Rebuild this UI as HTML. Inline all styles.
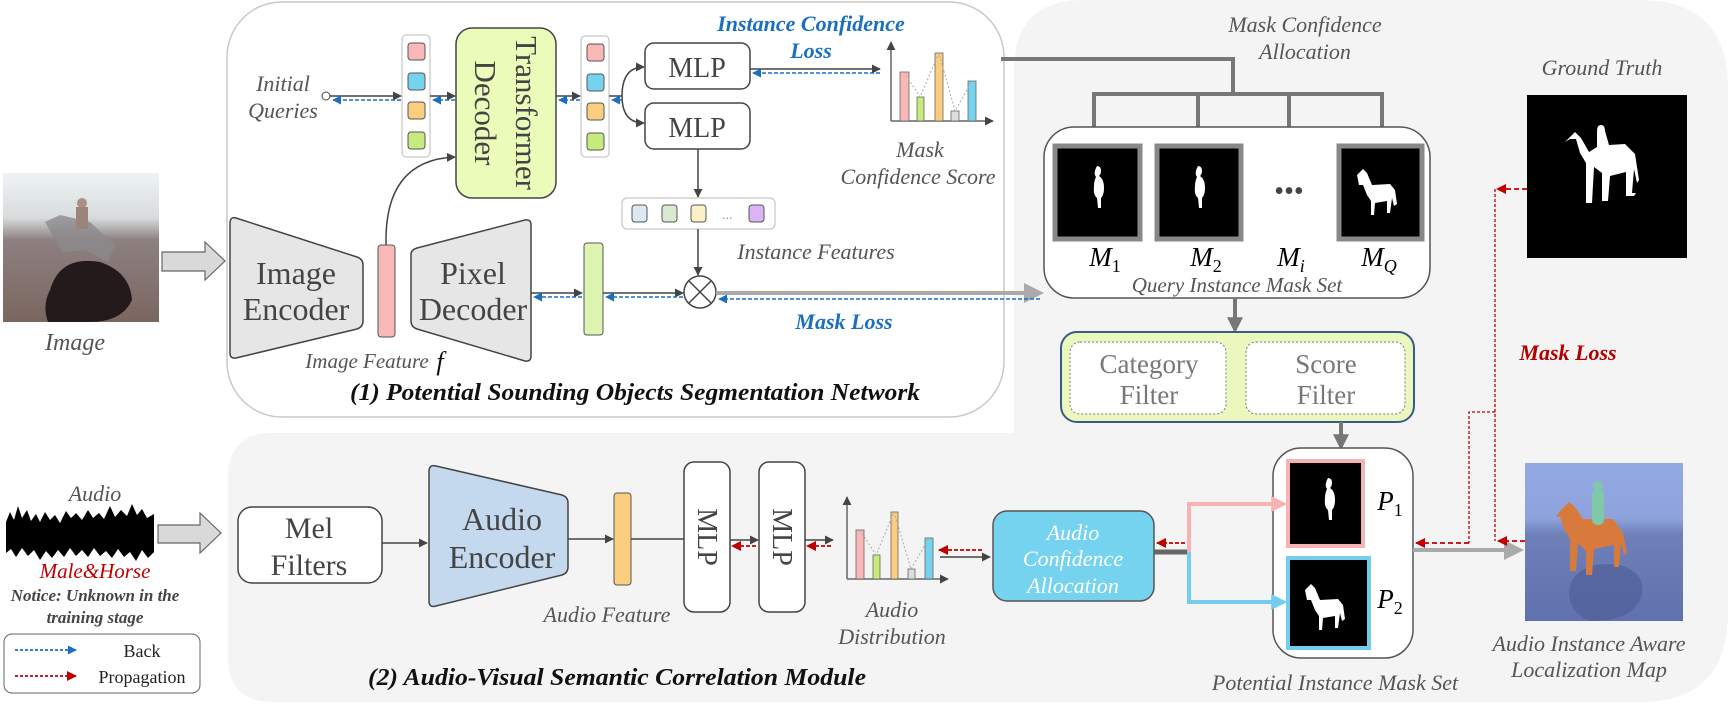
<!DOCTYPE html>
<html><head><meta charset="utf-8"><style>
html,body{margin:0;padding:0;background:#fff}
svg{display:block}
text{font-family:"Liberation Serif",serif}
.it{font-style:italic;fill:#555}
.bb{font-weight:bold;font-style:italic;fill:#1a6fc0}
.rb{font-weight:bold;font-style:italic;fill:#b00000}
</style></head><body>
<svg width="1735" height="704" viewBox="0 0 1735 704" xmlns="http://www.w3.org/2000/svg">
<defs>
<marker id="ad" viewBox="0 0 10 10" refX="9" refY="5" markerWidth="9" markerHeight="9" markerUnits="userSpaceOnUse" orient="auto"><path d="M0,0L10,5L0,10z" fill="#444"/></marker>
<marker id="ab" viewBox="0 0 10 10" refX="9" refY="5" markerWidth="9" markerHeight="9" markerUnits="userSpaceOnUse" orient="auto"><path d="M0,0L10,5L0,10z" fill="#1a6fc0"/></marker>
<marker id="ar" viewBox="0 0 10 10" refX="9" refY="5" markerWidth="10" markerHeight="10" markerUnits="userSpaceOnUse" orient="auto"><path d="M0,0L10,5L0,10z" fill="#c00000"/></marker>
<marker id="ag" viewBox="0 0 10 10" refX="8" refY="5" markerWidth="16" markerHeight="16" markerUnits="userSpaceOnUse" orient="auto"><path d="M0,0L10,5L0,10z" fill="#777"/></marker>
<marker id="ag2" viewBox="0 0 10 10" refX="8" refY="5" markerWidth="20" markerHeight="20" markerUnits="userSpaceOnUse" orient="auto"><path d="M0,0L10,5L0,10z" fill="#aaa"/></marker>
<marker id="ap" viewBox="0 0 10 10" refX="8" refY="5" markerWidth="16" markerHeight="16" markerUnits="userSpaceOnUse" orient="auto"><path d="M0,0L10,5L0,10z" fill="#f6b3b3"/></marker>
<marker id="ac" viewBox="0 0 10 10" refX="8" refY="5" markerWidth="16" markerHeight="16" markerUnits="userSpaceOnUse" orient="auto"><path d="M0,0L10,5L0,10z" fill="#74cdee"/></marker>
<linearGradient id="ph" x1="0" y1="0" x2="0" y2="1"><stop offset="0" stop-color="#eef3f4"/><stop offset="0.3" stop-color="#d8dcdc"/><stop offset="0.45" stop-color="#8d8080"/><stop offset="1" stop-color="#7a665f"/></linearGradient>
<linearGradient id="mp" x1="0" y1="0" x2="0" y2="1"><stop offset="0" stop-color="#93a9e3"/><stop offset="0.35" stop-color="#8ea3dc"/><stop offset="0.45" stop-color="#6f80b9"/><stop offset="1" stop-color="#5f72ad"/></linearGradient>
</defs>

<!-- backgrounds -->
<path d="M1084,0H1640Q1728,0 1728,88V612Q1728,702 1640,702H273Q228,702 228,657V478Q228,433 273,433H1014V70Q1014,0 1084,0Z" fill="#f4f4f4"/>
<rect x="227" y="2" width="777" height="415" rx="55" fill="#fff" stroke="#c8c8c8" stroke-width="1.5"/>

<!-- photo -->
<rect x="3" y="173" width="156" height="149" fill="url(#ph)"/>
<path d="M50,290Q60,255 100,262Q130,272 132,300Q122,322 90,322H48Q42,305 50,290Z" fill="#241a1c"/>
<path d="M45,222L60,215L90,222L115,245L108,262L85,250L62,252Z" fill="#8c8a8c" opacity="0.8"/>
<circle cx="82" cy="203" r="5" fill="#a89088"/><rect x="76" y="207" width="12" height="22" fill="#9b8579"/>
<text x="75" y="350" class="it" font-size="24" text-anchor="middle">Image</text>
<path d="M162,252H205V242L225,261L205,280V271H162Z" fill="#d9d9d9" stroke="#666" stroke-width="1.2"/>

<!-- Initial queries -->
<text x="283" y="91" class="it" font-size="22" text-anchor="middle">Initial</text>
<text x="283" y="118" class="it" font-size="22" text-anchor="middle">Queries</text>
<circle cx="326" cy="96" r="4" fill="#fff" stroke="#444"/>
<line x1="330" y1="96" x2="401" y2="96" stroke="#444" stroke-width="1.5" marker-end="url(#ad)"/>
<line x1="401" y1="100" x2="333" y2="100" stroke="#1a6fc0" stroke-width="1.5" stroke-dasharray="4,2" marker-end="url(#ab)"/>

<!-- column 1 -->
<rect x="402" y="35" width="28" height="122" rx="4" fill="#fff" stroke="#bbb"/>
<rect x="408" y="43" width="17" height="17" rx="3" fill="#f9b8b8" stroke="#555"/>
<rect x="408" y="73" width="17" height="17" rx="3" fill="#76d3ef" stroke="#555"/>
<rect x="408" y="102" width="17" height="17" rx="3" fill="#fbcd7f" stroke="#555"/>
<rect x="408" y="132" width="17" height="17" rx="3" fill="#c6ea7c" stroke="#555"/>
<line x1="430" y1="96" x2="455" y2="96" stroke="#444" stroke-width="1.5" marker-end="url(#ad)"/>
<line x1="455" y1="100" x2="433" y2="100" stroke="#1a6fc0" stroke-width="1.5" stroke-dasharray="4,2" marker-end="url(#ab)"/>

<!-- transformer decoder -->
<rect x="456" y="28" width="100" height="170" rx="16" fill="#ebfbba" stroke="#444" stroke-width="1.5"/>
<text transform="translate(516,113) rotate(90)" font-size="31" fill="#444" text-anchor="middle">Transformer</text>
<text transform="translate(475,113) rotate(90)" font-size="31" fill="#444" text-anchor="middle">Decoder</text>
<line x1="556" y1="96" x2="580" y2="96" stroke="#444" stroke-width="1.5" marker-end="url(#ad)"/>
<line x1="580" y1="100" x2="559" y2="100" stroke="#1a6fc0" stroke-width="1.5" stroke-dasharray="4,2" marker-end="url(#ab)"/>

<!-- column 2 -->
<rect x="581" y="36" width="28" height="121" rx="4" fill="#fff" stroke="#bbb"/>
<rect x="587" y="44" width="17" height="17" rx="3" fill="#f9b8b8" stroke="#555"/>
<rect x="587" y="74" width="17" height="17" rx="3" fill="#76d3ef" stroke="#555"/>
<rect x="587" y="103" width="17" height="17" rx="3" fill="#fbcd7f" stroke="#555"/>
<rect x="587" y="133" width="17" height="17" rx="3" fill="#c6ea7c" stroke="#555"/>
<line x1="609" y1="96" x2="622" y2="96" stroke="#444" stroke-width="1.5"/>
<path d="M622,96Q622,67 644,67" fill="none" stroke="#444" stroke-width="1.5" marker-end="url(#ad)"/>
<path d="M622,96Q622,123 644,123" fill="none" stroke="#444" stroke-width="1.5" marker-end="url(#ad)"/>
<line x1="622" y1="100" x2="612" y2="100" stroke="#1a6fc0" stroke-width="1.5" stroke-dasharray="4,2" marker-end="url(#ab)"/>

<!-- MLPs -->
<rect x="645" y="43" width="105" height="46" rx="9" fill="#fff" stroke="#444" stroke-width="1.5"/>
<text x="697" y="77" font-size="28" fill="#444" text-anchor="middle">MLP</text>
<rect x="645" y="103" width="105" height="46" rx="9" fill="#fff" stroke="#444" stroke-width="1.5"/>
<text x="697" y="137" font-size="28" fill="#444" text-anchor="middle">MLP</text>
<line x1="750" y1="69" x2="880" y2="69" stroke="#444" stroke-width="1.5" marker-end="url(#ad)"/>
<line x1="880" y1="73" x2="753" y2="73" stroke="#1a6fc0" stroke-width="1.5" stroke-dasharray="4,2" marker-end="url(#ab)"/>
<text x="811" y="31" class="bb" font-size="22" text-anchor="middle">Instance Confidence</text>
<text x="811" y="58" class="bb" font-size="22" text-anchor="middle">Loss</text>

<!-- chart 1 -->
<line x1="891" y1="121" x2="891" y2="42" stroke="#666" stroke-width="1.5" marker-end="url(#ad)"/>
<line x1="891" y1="121" x2="993" y2="121" stroke="#666" stroke-width="1.5" marker-end="url(#ad)"/>
<rect x="900" y="72" width="9" height="49" fill="#f9b8b8" stroke="#666" stroke-width="0.8"/>
<rect x="917" y="97" width="7" height="24" fill="#c6ea7c" stroke="#666" stroke-width="0.8"/>
<rect x="935" y="53" width="8" height="68" fill="#fbcd7f" stroke="#666" stroke-width="0.8"/>
<rect x="951" y="111" width="8" height="10" fill="#ddd" stroke="#666" stroke-width="0.8"/>
<rect x="968" y="81" width="8" height="40" fill="#76d3ef" stroke="#666" stroke-width="0.8"/>
<polyline points="904,72 920,97 939,53 955,111 972,81" fill="none" stroke="#aaa" stroke-dasharray="2,2"/>
<text x="920" y="157" class="it" font-size="22" text-anchor="middle">Mask</text>
<text x="918" y="184" class="it" font-size="22" text-anchor="middle">Confidence Score</text>

<!-- instance features -->
<line x1="698" y1="149" x2="698" y2="197" stroke="#444" stroke-width="1.5" marker-end="url(#ad)"/>
<rect x="622" y="198" width="153" height="31" rx="5" fill="#fff" stroke="#bbb"/>
<rect x="632" y="205" width="15" height="17" rx="3" fill="#dde8f5" stroke="#555"/>
<rect x="662" y="205" width="15" height="17" rx="3" fill="#d8ead0" stroke="#555"/>
<rect x="691" y="205" width="15" height="17" rx="3" fill="#fdf0c8" stroke="#555"/>
<text x="722" y="219" font-size="14" fill="#999">...</text>
<rect x="749" y="205" width="15" height="17" rx="3" fill="#dcb4f5" stroke="#555"/>
<text x="816" y="259" class="it" font-size="22" text-anchor="middle">Instance Features</text>
<line x1="698" y1="229" x2="698" y2="275" stroke="#444" stroke-width="1.5" marker-end="url(#ad)"/>
<circle cx="700" cy="292" r="16" fill="#fff" stroke="#444" stroke-width="1.5"/>
<path d="M689,281L711,303M711,281L689,303" stroke="#444" stroke-width="1.5"/>
<line x1="716" y1="293" x2="1040" y2="293" stroke="#aaa" stroke-width="4" marker-end="url(#ag2)"/>
<line x1="1040" y1="299" x2="719" y2="299" stroke="#1a6fc0" stroke-width="1.5" stroke-dasharray="4,2" marker-end="url(#ab)"/>
<text x="844" y="329" class="bb" font-size="22" text-anchor="middle">Mask Loss</text>

<!-- image encoder -->
<path d="M236,218L357,257Q363,259 363,265V321Q363,327 357,329L236,358Q230,359 230,353V224Q230,216 236,218Z" fill="#e6e6e6" stroke="#444" stroke-width="1.5"/>
<text x="296" y="284" font-size="32" fill="#444" text-anchor="middle">Image</text>
<text x="296" y="320" font-size="32" fill="#444" text-anchor="middle">Encoder</text>
<rect x="378" y="245" width="17" height="92" rx="3" fill="#f9b8b8" stroke="#555"/>
<path d="M386,245Q384,160 455,157" fill="none" stroke="#444" stroke-width="1.5" marker-end="url(#ad)"/>
<path d="M417,248L525,220Q531,219 531,225V356Q531,362 525,361L417,329Q411,327 411,321V254Q411,250 417,248Z" fill="#e6e6e6" stroke="#444" stroke-width="1.5"/>
<text x="473" y="284" font-size="32" fill="#444" text-anchor="middle">Pixel</text>
<text x="473" y="320" font-size="32" fill="#444" text-anchor="middle">Decoder</text>
<line x1="531" y1="293" x2="582" y2="293" stroke="#444" stroke-width="1.5" marker-end="url(#ad)"/>
<line x1="582" y1="297" x2="534" y2="297" stroke="#1a6fc0" stroke-width="1.5" stroke-dasharray="4,2" marker-end="url(#ab)"/>
<rect x="584" y="243" width="19" height="92" rx="3" fill="#ddf5b0" stroke="#555"/>
<line x1="603" y1="293" x2="683" y2="293" stroke="#444" stroke-width="1.5" marker-end="url(#ad)"/>
<line x1="683" y1="297" x2="606" y2="297" stroke="#1a6fc0" stroke-width="1.5" stroke-dasharray="4,2" marker-end="url(#ab)"/>
<text x="367" y="368" class="it" font-size="21" text-anchor="middle">Image Feature</text>
<text x="440" y="370" font-size="26" font-style="italic" fill="#111" text-anchor="middle">f</text>
<text x="635" y="400" font-size="24" font-weight="bold" font-style="italic" fill="#111" text-anchor="middle" textLength="570" lengthAdjust="spacingAndGlyphs">(1) Potential Sounding Objects Segmentation Network</text>

<!-- mask confidence allocation -->
<text x="1305" y="32" class="it" font-size="22" text-anchor="middle">Mask Confidence</text>
<text x="1305" y="59" class="it" font-size="22" text-anchor="middle">Allocation</text>
<path d="M1001,59H1233V94" fill="none" stroke="#777" stroke-width="4"/>
<line x1="1092" y1="94" x2="1384" y2="94" stroke="#777" stroke-width="4"/>
<line x1="1094" y1="94" x2="1094" y2="142" stroke="#777" stroke-width="4" marker-end="url(#ag)"/>
<line x1="1198" y1="94" x2="1198" y2="142" stroke="#777" stroke-width="4" marker-end="url(#ag)"/>
<line x1="1289" y1="94" x2="1289" y2="142" stroke="#777" stroke-width="4" marker-end="url(#ag)"/>
<line x1="1382" y1="94" x2="1382" y2="142" stroke="#777" stroke-width="4" marker-end="url(#ag)"/>

<!-- query instance mask set -->
<rect x="1044" y="127" width="386" height="171" rx="30" fill="#fff" stroke="#555" stroke-width="1.5"/>
<rect x="1055" y="146" width="85" height="93" fill="#000" stroke="#888" stroke-width="5"/>
<path d="M1097,166q4,0 4,5q0,3 -2,5q5,3 5,12q0,7 -3,10l0,10l-3,0l-1,-10q-4,-3 -3,-12q0,-5 2,-9q-3,-4 1,-11z" fill="#fff"/>
<rect x="1157" y="146" width="84" height="93" fill="#000" stroke="#888" stroke-width="5"/>
<path d="M1198,166q4,0 4,5q0,3 -2,5q5,3 5,12q0,7 -3,10l0,10l-3,0l-1,-10q-4,-3 -3,-12q0,-5 2,-9q-3,-4 1,-11z" fill="#fff"/>
<text x="1289" y="200" font-size="28" fill="#444" text-anchor="middle">•••</text>
<rect x="1339" y="146" width="83" height="93" fill="#000" stroke="#888" stroke-width="5"/>
<path d="M1357,175l6,-6l4,4l5,12l18,-1l5,6l2,14l-3,2l-2,-8l-2,15l-3,0l0,-12l-12,2l-1,12l-3,0l0,-14l-4,-6l-4,-10l-4,0z" fill="#fff"/>
<text x="1105" y="266" font-size="27" font-style="italic" fill="#000" text-anchor="middle">M<tspan font-size="18" dy="6" font-style="normal">1</tspan></text>
<text x="1206" y="266" font-size="27" font-style="italic" fill="#000" text-anchor="middle">M<tspan font-size="18" dy="6" font-style="normal">2</tspan></text>
<text x="1291" y="266" font-size="27" font-style="italic" fill="#000" text-anchor="middle">M<tspan font-size="18" dy="6">i</tspan></text>
<text x="1379" y="266" font-size="27" font-style="italic" fill="#000" text-anchor="middle">M<tspan font-size="18" dy="6">Q</tspan></text>
<text x="1237" y="292" class="it" font-size="21" text-anchor="middle">Query Instance Mask Set</text>
<line x1="1235" y1="298" x2="1235" y2="330" stroke="#777" stroke-width="4" marker-end="url(#ag)"/>

<!-- filters -->
<rect x="1061" y="332" width="353" height="90" rx="16" fill="#eaf8bd" stroke="#3a5a8a" stroke-width="2"/>
<rect x="1070" y="342" width="156" height="72" rx="10" fill="#fff" stroke="#777" stroke-dasharray="2,2"/>
<rect x="1246" y="342" width="159" height="72" rx="10" fill="#fff" stroke="#777" stroke-dasharray="2,2"/>
<text x="1149" y="373" font-size="27" fill="#777" text-anchor="middle">Category</text>
<text x="1149" y="404" font-size="27" fill="#777" text-anchor="middle">Filter</text>
<text x="1326" y="373" font-size="27" fill="#777" text-anchor="middle">Score</text>
<text x="1326" y="404" font-size="27" fill="#777" text-anchor="middle">Filter</text>
<line x1="1341" y1="422" x2="1341" y2="447" stroke="#777" stroke-width="4" marker-end="url(#ag)"/>

<!-- ground truth -->
<text x="1602" y="75" class="it" font-size="22" text-anchor="middle">Ground Truth</text>
<rect x="1527" y="95" width="160" height="163" fill="#000"/>
<path d="M1565,142l10,-10l6,6l8,14l8,-5l0,-16q0,-6 4,-6q4,0 4,6l4,14l16,-1l10,10l4,26l-2,3l-3,-14l-2,24l4,0l-2,3l-8,0l0,-24l-16,4l-2,25l-6,0l0,-28l-8,-6l-2,36l-6,0l0,-40l-6,-10l-4,-14l-6,0z" fill="#fff"/>
<line x1="1527" y1="189" x2="1497" y2="189" stroke="#c00000" stroke-width="1.8" stroke-dasharray="5,3" marker-end="url(#ar)"/>
<line x1="1495" y1="189" x2="1495" y2="541" stroke="#c00000" stroke-width="1.3" stroke-dasharray="3,2"/>
<text x="1568" y="360" class="rb" font-size="22" text-anchor="middle">Mask Loss</text>
<path d="M1495,412H1469V543" fill="none" stroke="#c00000" stroke-width="1.3" stroke-dasharray="3,2"/>

<!-- potential instance mask set -->
<rect x="1273" y="448" width="140" height="210" rx="28" fill="#fff" stroke="#555" stroke-width="1.5"/>
<rect x="1288" y="461" width="75" height="85" fill="#000" stroke="#f6b3b3" stroke-width="4"/>
<path d="M1328,478q4,0 4,5q0,3 -2,5q5,3 5,12q0,7 -3,10l0,10l-3,0l-1,-10q-4,-3 -3,-12q0,-5 2,-9q-3,-4 1,-11z" fill="#fff"/>
<rect x="1288" y="558" width="81" height="90" fill="#000" stroke="#74cdee" stroke-width="4"/>
<path d="M1305,590l6,-6l4,4l5,12l18,-1l5,6l2,14l-3,2l-2,-8l-2,15l-3,0l0,-12l-12,2l-1,12l-3,0l0,-14l-4,-6l-4,-10l-4,0z" fill="#fff"/>
<text x="1390" y="510" font-size="27" font-style="italic" fill="#000" text-anchor="middle">P<tspan font-size="18" dy="6" font-style="normal">1</tspan></text>
<text x="1390" y="608" font-size="27" font-style="italic" fill="#000" text-anchor="middle">P<tspan font-size="18" dy="6" font-style="normal">2</tspan></text>
<text x="1335" y="690" class="it" font-size="22" text-anchor="middle">Potential Instance Mask Set</text>
<line x1="1413" y1="550" x2="1520" y2="550" stroke="#aaa" stroke-width="4" marker-end="url(#ag2)"/>
<line x1="1469" y1="543" x2="1416" y2="543" stroke="#c00000" stroke-width="1.8" stroke-dasharray="5,3" marker-end="url(#ar)"/>
<line x1="1525" y1="541" x2="1498" y2="541" stroke="#c00000" stroke-width="1.8" stroke-dasharray="5,3" marker-end="url(#ar)"/>

<!-- localization map -->
<rect x="1525" y="463" width="158" height="158" fill="url(#mp)"/>
<path d="M1570,585Q1580,560 1620,565Q1650,575 1640,600Q1630,621 1590,621Q1565,610 1570,585Z" fill="#4f5f99" opacity="0.7"/>
<path d="M1561,510l8,-8l6,5l8,12l30,0l10,14l4,20l-3,2l-3,-12l-2,24l-5,0l0,-22l-20,4l-2,26l-6,0l0,-24l-8,-8l-2,28l-6,0l0,-32l-6,-10l-4,-12l-4,0z" fill="#d87a3c"/>
<rect x="1592" y="490" width="12" height="35" rx="5" fill="#7fc8a8"/><circle cx="1598" cy="486" r="5" fill="#7fc8a8"/>
<text x="1589" y="651" class="it" font-size="22" text-anchor="middle">Audio Instance Aware</text>
<text x="1589" y="677" class="it" font-size="22" text-anchor="middle">Localization Map</text>

<!-- audio side -->
<text x="95" y="501" class="it" font-size="22" text-anchor="middle">Audio</text>
<path d="M6,522L10,512L14,520L18,506L22,518L27,510L31,521L36,514L40,522L45,512L50,520L55,515L60,523L66,511L71,518L76,513L82,520L88,510L93,518L99,513L104,519L110,506L115,517L121,510L127,516L132,504L137,515L142,509L147,518L154,514L154,552L148,558L142,550L136,561L130,552L124,557L118,549L112,558L106,551L100,556L94,548L88,557L82,550L76,556L70,548L64,557L58,550L52,558L46,551L40,560L34,550L28,556L22,548L16,557L11,549L6,553Z" fill="#000"/>
<path d="M158,525H200V513L221,533L200,553V543H158Z" fill="#d9d9d9" stroke="#666" stroke-width="1.2"/>
<text x="95" y="578" font-size="21" font-style="italic" fill="#c00000" text-anchor="middle">Male&amp;Horse</text>
<text x="95" y="601" font-size="17" font-weight="bold" font-style="italic" fill="#444" text-anchor="middle">Notice: Unknown in the</text>
<text x="95" y="623" font-size="17" font-weight="bold" font-style="italic" fill="#444" text-anchor="middle">training stage</text>
<rect x="4" y="634" width="196" height="59" rx="8" fill="#fff" stroke="#666"/>
<line x1="15" y1="650" x2="76" y2="650" stroke="#1a6fc0" stroke-width="1.8" stroke-dasharray="3,2" marker-end="url(#ab)"/>
<line x1="15" y1="676" x2="76" y2="676" stroke="#c00000" stroke-width="1.8" stroke-dasharray="3,2" marker-end="url(#ar)"/>
<text x="142" y="657" font-size="18" fill="#222" text-anchor="middle">Back</text>
<text x="142" y="683" font-size="18" fill="#222" text-anchor="middle">Propagation</text>

<rect x="238" y="507" width="144" height="76" rx="14" fill="#fff" stroke="#444" stroke-width="1.5"/>
<text x="309" y="538" font-size="30" fill="#444" text-anchor="middle">Mel</text>
<text x="309" y="575" font-size="30" fill="#444" text-anchor="middle">Filters</text>
<line x1="382" y1="543" x2="427" y2="543" stroke="#444" stroke-width="1.5" marker-end="url(#ad)"/>
<path d="M436,466L562,495Q568,497 568,503V567Q568,573 562,575L436,606Q429,608 429,601V472Q429,464 436,466Z" fill="#c5d9ee" stroke="#444" stroke-width="1.5"/>
<text x="502" y="530" font-size="32" fill="#444" text-anchor="middle">Audio</text>
<text x="502" y="568" font-size="32" fill="#444" text-anchor="middle">Encoder</text>
<line x1="568" y1="539" x2="613" y2="539" stroke="#444" stroke-width="1.5" marker-end="url(#ad)"/>
<rect x="614" y="493" width="17" height="92" rx="3" fill="#fbcd7f" stroke="#555"/>
<line x1="631" y1="539" x2="684" y2="539" stroke="#444" stroke-width="1.5"/>
<text x="607" y="622" class="it" font-size="22" text-anchor="middle">Audio Feature</text>
<rect x="684" y="462" width="46" height="150" rx="10" fill="#fff" stroke="#444" stroke-width="1.5"/>
<text transform="translate(698,537) rotate(90)" font-size="28" fill="#444" text-anchor="middle">MLP</text>
<rect x="759" y="462" width="46" height="150" rx="10" fill="#fff" stroke="#444" stroke-width="1.5"/>
<text transform="translate(773,537) rotate(90)" font-size="28" fill="#444" text-anchor="middle">MLP</text>
<line x1="730" y1="540" x2="758" y2="540" stroke="#444" stroke-width="1.5" marker-end="url(#ad)"/>
<line x1="756" y1="546" x2="732" y2="546" stroke="#c00000" stroke-width="1.8" stroke-dasharray="4,2" marker-end="url(#ar)"/>
<line x1="805" y1="540" x2="833" y2="540" stroke="#444" stroke-width="1.5" marker-end="url(#ad)"/>
<line x1="831" y1="546" x2="807" y2="546" stroke="#c00000" stroke-width="1.8" stroke-dasharray="4,2" marker-end="url(#ar)"/>

<line x1="847" y1="579" x2="847" y2="497" stroke="#666" stroke-width="1.5" marker-end="url(#ad)"/>
<line x1="847" y1="579" x2="948" y2="579" stroke="#666" stroke-width="1.5" marker-end="url(#ad)"/>
<rect x="856" y="530" width="8" height="49" fill="#f9b8b8" stroke="#666" stroke-width="0.8"/>
<rect x="873" y="555" width="7" height="24" fill="#c6ea7c" stroke="#666" stroke-width="0.8"/>
<rect x="891" y="512" width="7" height="67" fill="#fbcd7f" stroke="#666" stroke-width="0.8"/>
<rect x="908" y="569" width="7" height="10" fill="#ddd" stroke="#666" stroke-width="0.8"/>
<rect x="925" y="538" width="8" height="41" fill="#76d3ef" stroke="#666" stroke-width="0.8"/>
<polyline points="860,530 876,555 894,512 911,569 929,538" fill="none" stroke="#aaa" stroke-dasharray="2,2"/>
<text x="892" y="617" class="it" font-size="22" text-anchor="middle">Audio</text>
<text x="892" y="644" class="it" font-size="22" text-anchor="middle">Distribution</text>
<line x1="940" y1="557" x2="990" y2="557" stroke="#444" stroke-width="1.5" marker-end="url(#ad)"/>
<line x1="982" y1="550" x2="939" y2="550" stroke="#c00000" stroke-width="1.8" stroke-dasharray="4,2" marker-end="url(#ar)"/>

<rect x="993" y="511" width="161" height="90" rx="14" fill="#76d3ef" stroke="#555" stroke-width="1.5"/>
<text x="1073" y="540" font-size="22" font-style="italic" fill="#fff" text-anchor="middle">Audio</text>
<text x="1073" y="566" font-size="22" font-style="italic" fill="#fff" text-anchor="middle">Confidence</text>
<text x="1073" y="593" font-size="22" font-style="italic" fill="#fff" text-anchor="middle">Allocation</text>
<line x1="1154" y1="552" x2="1191" y2="552" stroke="#666" stroke-width="5"/>
<path d="M1189,552V504H1284" fill="none" stroke="#f6b3b3" stroke-width="4" marker-end="url(#ap)"/>
<path d="M1189,552V602H1284" fill="none" stroke="#74cdee" stroke-width="4" marker-end="url(#ac)"/>
<line x1="1185" y1="543" x2="1157" y2="543" stroke="#c00000" stroke-width="1.8" stroke-dasharray="4,2" marker-end="url(#ar)"/>

<text x="617" y="685" font-size="24" font-weight="bold" font-style="italic" fill="#111" text-anchor="middle" textLength="498" lengthAdjust="spacingAndGlyphs">(2) Audio-Visual Semantic Correlation Module</text>
</svg>
</body></html>
